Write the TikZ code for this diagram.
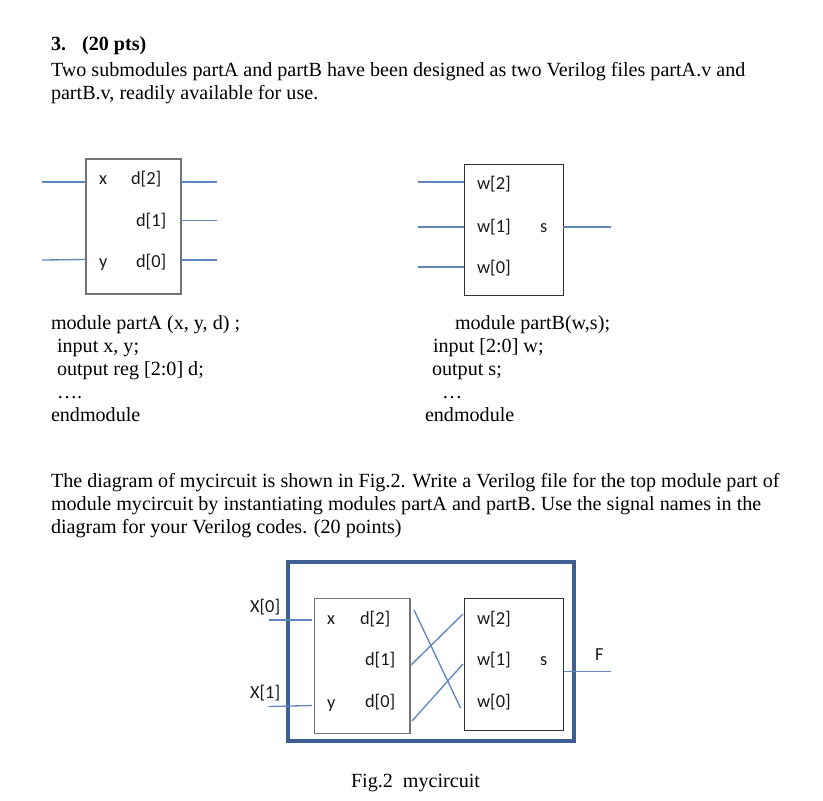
\documentclass[tikz,border=0pt]{standalone}
\usepackage{fontspec}
\setmainfont{Liberation Serif}
\newfontfamily\lblfont{Carlito}
\definecolor{wirec}{RGB}{95,135,190}
\definecolor{framec}{RGB}{62,96,145}
\tikzset{
  x=0.75pt,y=-0.75pt,
  txt/.style={anchor=base west,inner sep=0pt,outer sep=0pt,font=\fontsize{15.08}{17}\selectfont},
  lbl/.style={anchor=base west,inner sep=0pt,outer sep=0pt,font=\lblfont\fontsize{13.8}{16}\selectfont,text=black!90},
  modbox/.style={draw=black!80,line width=0.7pt,anchor=north west,inner sep=0pt,outer sep=0pt,fill=white},
  graybox/.style={modbox,draw=black!55,line width=0.95pt},
  outerbox/.style={draw=framec,line width=2.6pt,anchor=north west,inner sep=0pt,outer sep=0pt},
  wire/.style={draw=wirec,line width=1pt}
}
\newcommand{\boxat}[6]{\node[#1,minimum width=#5*0.75pt,minimum height=#6*0.75pt] (#2) at (#3,#4) {};}
\begin{document}
\begin{tikzpicture}
\useasboundingbox (0,0) rectangle (823,800);
% heading text
\node[txt,font=\bfseries\fontsize{15.08}{17}\selectfont] (t1) at (51,50) {3.\hspace{0.8em}(20 pts)};
\node[txt] (t2) at (51,76) {Two submodules partA and partB have been designed as two Verilog files partA.v and};
\node[txt] (t3) at (51,99) {partB.v, readily available for use.};
% part A
\boxat{graybox}{A}{86}{159}{95}{135}
\coordinate (Ax) at (42,182); \coordinate (Ay) at (42,260);
\coordinate (Ad2) at (217,182); \coordinate (Ad1) at (217,220.5); \coordinate (Ad0) at (217,260);
\draw[wire] (Ax) -- (Ax -| A.west);
\draw[wire] (Ay) -- (A.west |- 0,259.5);
\draw[wire] (Ad2 -| A.east) -- (Ad2);
\draw[wire] (Ad1 -| A.east) -- (Ad1);
\draw[wire] (Ad0 -| A.east) -- (Ad0);
\node[lbl] (ax) at (99,184) {x};
\node[lbl] (ay) at (99,267) {y};
\node[lbl] (ad2) at (131,184) {d[2]};
\node[lbl] (ad1) at (136,226) {d[1]};
\node[lbl] (ad0) at (136,267) {d[0]};
% part B
\boxat{modbox}{B}{464}{164}{99}{131}
\coordinate (Bw2) at (418,182); \coordinate (Bw1) at (418,227); \coordinate (Bw0) at (418,267);
\coordinate (Bs) at (611,227);
\draw[wire] (Bw2) -- (Bw2 -| B.west);
\draw[wire] (Bw1) -- (Bw1 -| B.west);
\draw[wire] (Bw0) -- (Bw0 -| B.west);
\draw[wire] (Bs -| B.east) -- (Bs);
\node[lbl] (bw2) at (477,189) {w[2]};
\node[lbl] (bw1) at (477,232) {w[1]};
\node[lbl] (bw0) at (477,273) {w[0]};
\node[lbl] (bs) at (540,232) {s};
% code
\node[txt] (c1) at (51,329) {module partA (x, y, d) ;};
\node[txt] (c2) at (57,352) {input x, y;};
\node[txt] (c3) at (57,375) {output reg [2:0] d;};
\node[txt] (c4) at (57,398) {….};
\node[txt] (c5) at (51,421) {endmodule};
\node[txt] (e1) at (455,329) {module partB(w,s);};
\node[txt] (e2) at (433,352) {input [2:0] w;};
\node[txt] (e3) at (432,375) {output s;};
\node[txt] (e4) at (442,398) {…};
\node[txt] (e5) at (425,421) {endmodule};
% paragraph
\node[txt] (p1) at (51,487) {The diagram of mycircuit is shown in Fig.2. Write a Verilog file for the top module part of};
\node[txt] (p2) at (51,510) {module mycircuit by instantiating modules partA and partB. Use the signal names in the};
\node[txt] (p3) at (51,533) {diagram for your Verilog codes. (20 points)};
% circuit
\boxat{outerbox}{O}{288}{562}{286}{179}
\boxat{graybox}{A2}{314.5}{598.5}{95.5}{135}
\boxat{modbox}{B2}{464.5}{598.5}{99}{131.5}
\coordinate (X0) at (268.5,620); \coordinate (X0e) at (312,620);
\coordinate (X1) at (268.5,706.5); \coordinate (X1e) at (312,705.5);
\coordinate (d2s) at (414,610); \coordinate (w0e) at (460.5,708);
\coordinate (d1s) at (411,665); \coordinate (w2e) at (463,614);
\coordinate (d0s) at (412,721); \coordinate (w1e) at (463,664);
\coordinate (Fe) at (611,671.5);
\draw[wire] (X0) -- (X0e);
\draw[wire] (X1) -- (X1e);
\draw[wire] (d2s) -- (w0e);
\draw[wire] (d1s) -- (w2e);
\draw[wire] (d0s) -- (w1e);
\draw[wire] (Fe -| B2.east) -- (Fe);
\node[lbl] (x0) at (250,612) {X[0]};
\node[lbl] (x1) at (250,698) {X[1]};
\node[lbl] (cx) at (327,624) {x};
\node[lbl] (cy) at (327,708) {y};
\node[lbl] (cd2) at (360,624) {d[2]};
\node[lbl] (cd1) at (365,665) {d[1]};
\node[lbl] (cd0) at (365,707) {d[0]};
\node[lbl] (cw2) at (477,624) {w[2]};
\node[lbl] (cw1) at (477,665) {w[1]};
\node[lbl] (cw0) at (477,707) {w[0]};
\node[lbl] (cs) at (540,665) {s};
\node[lbl] (cF) at (595,660) {F};
\node[txt] (fig) at (351,787) {Fig.2\ \ mycircuit};
\end{tikzpicture}
\end{document}
